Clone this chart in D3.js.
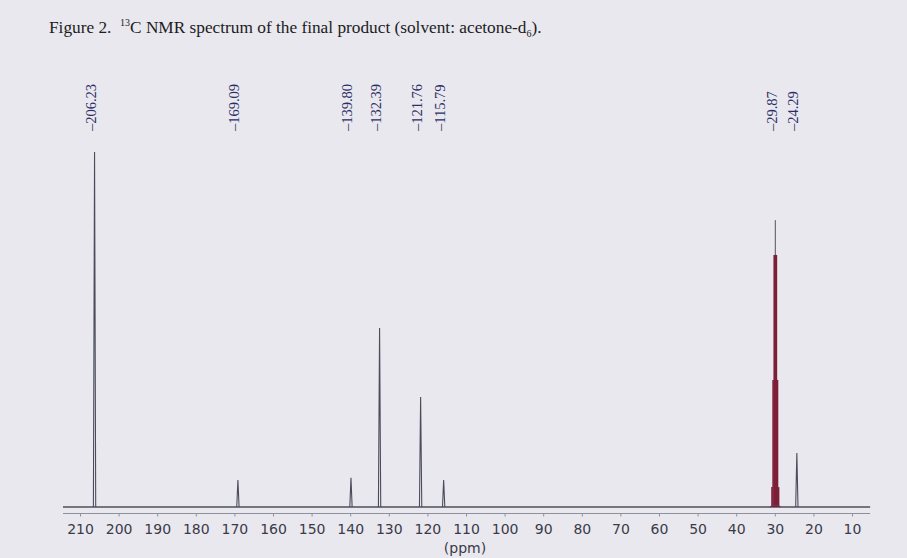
<!DOCTYPE html>
<html><head><meta charset="utf-8">
<script src="https://cdn.jsdelivr.net/npm/d3@7"></script>
<style>
html,body{margin:0;padding:0;background:#e9e8ef;}
svg{display:block;}
</style></head>
<body>
<svg id="chart" width="907" height="558"></svg>
<script>
// ---- data ----
const peakLabels = ["206.23","169.09","139.80","132.39","121.76","115.79","29.87","24.29"];
const peakPpm = [206.23, 169.09, 139.80, 132.39, 121.76, 115.79, 24.29];
const peakIntensity = [100, 7.6, 8.2, 50.4, 31, 7.6, 15.2];
// acetone-d6 solvent septet around 29.87 ppm
const septetPpm = [29.02, 29.30, 29.59, 29.87, 30.15, 30.44, 30.72];
const septetIntensity = [5.6, 35.8, 71, 80.8, 71, 35.8, 5.6];
const tickValues = [210,200,190,180,170,160,150,140,130,120,110,100,90,80,70,60,50,40,30,20,10];
const axisTitle = "(ppm)";

const svg = d3.select("#chart");
const x = d3.scaleLinear().domain([215, 5]).range([60.7, 871.3]);
const y = d3.scaleLinear().domain([0, 100]).range([507, 152]);

// background
svg.append("rect").attr("width", 907).attr("height", 558).attr("fill", "#e9e8ef");

// title
const title = svg.append("text").attr("x", 49).attr("y", 33)
  .attr("font-family", "Liberation Serif, Times New Roman, serif").attr("font-size", 17.3).attr("fill", "#1c1c22");
title.append("tspan").text("Figure 2.\u00a0\u00a0");
title.append("tspan").attr("font-size", 10).attr("dy", -7).text("13");
title.append("tspan").attr("dy", 7).text("C NMR spectrum of the final product (solvent: acetone-d");
title.append("tspan").attr("font-size", 10).attr("dy", 4).text("6");
title.append("tspan").attr("dy", -4).text(").");

// baseline of spectrum
svg.append("line").attr("x1", x(214.4)).attr("x2", x(5.3)).attr("y1", y(0)).attr("y2", y(0))
  .attr("stroke", "#4d4f5c").attr("stroke-width", 1.3);

// peaks
const peakPath = (p, h, w) => `M${x(p + w)},${y(0)} L${x(p)},${y(h)} L${x(p - w)},${y(0)}`;
svg.append("g").selectAll("path").data(peakPpm.map((p, i) => ({p, h: peakIntensity[i]})))
  .join("path").attr("d", d => peakPath(d.p, d.h, 0.3))
  .attr("fill", "none").attr("stroke", "#4a4c5a").attr("stroke-width", 1.1);

// septet: centre thin grey line then red sticks
svg.append("line").attr("x1", x(29.87)).attr("x2", x(29.87)).attr("y1", y(0)).attr("y2", y(80.8))
  .attr("stroke", "#55505c").attr("stroke-width", 1);
svg.append("g").selectAll("line").data(septetPpm.map((p, i) => ({p, h: septetIntensity[i]})))
  .join("line").attr("x1", d => x(d.p)).attr("x2", d => x(d.p))
  .attr("y1", y(0)).attr("y2", d => y(d.h === 80.8 ? 71 : d.h))
  .attr("stroke", "#7d1f36").attr("stroke-width", 1.6);
// small foot around solvent peak
svg.append("path").attr("d", `M${x(31.2)},${y(0)} Q${x(29.87)},${y(0) - 4} ${x(28.5)},${y(0)}`)
  .attr("fill", "none").attr("stroke", "#6a3a4a").attr("stroke-width", 1.2);

// peak labels
const labelPpm = peakLabels.map(Number);
svg.append("g").selectAll("text").data(peakLabels).join("text")
  .attr("transform", (d, i) => `translate(${x(labelPpm[i]) + 1.5},131) rotate(-90)`)
  .attr("font-family", "Liberation Serif, Times New Roman, serif").attr("font-size", 14.5)
  .attr("fill", "#2c2f66").text(d => "\u2013" + d);

// axis
const axis = d3.axisBottom(x).tickValues(tickValues).tickSize(3).tickPadding(8).tickFormat(d3.format("d"));
const gAxis = svg.append("g").attr("transform", "translate(0,513.5)").call(axis);
gAxis.select(".domain").attr("d", `M${x(214.4)},0H${x(5.3)}`).attr("stroke", "#8e909c").attr("stroke-width", 1.2);
gAxis.selectAll(".tick line").attr("stroke", "#8e909c");
gAxis.selectAll(".tick text").attr("font-family", "DejaVu Sans, Verdana, sans-serif")
  .attr("font-size", 14).attr("fill", "#3a3b48");

svg.append("text").attr("x", 465).attr("y", 553).attr("text-anchor", "middle")
  .attr("font-family", "DejaVu Sans, Verdana, sans-serif").attr("font-size", 14)
  .attr("fill", "#3a3b48").text(axisTitle);
</script>
</body></html>
